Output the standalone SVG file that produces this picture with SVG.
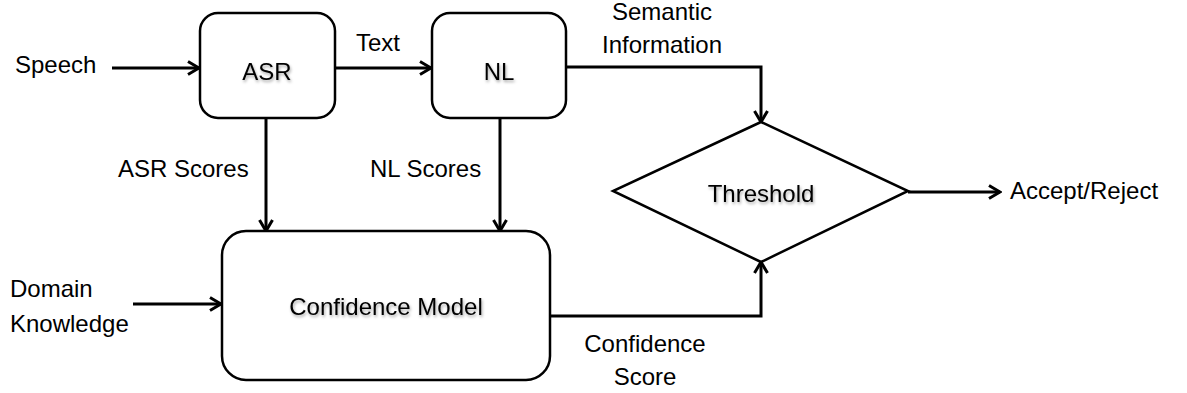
<svg xmlns="http://www.w3.org/2000/svg" width="1187" height="393" viewBox="0 0 1187 393">
<defs>
<marker id="arr" viewBox="0 0 14 16" refX="12.5" refY="8" markerWidth="14" markerHeight="16" markerUnits="userSpaceOnUse" orient="auto">
<path d="M1.5,1.5 L12.5,8 L1.5,14.5" fill="none" stroke="#000" stroke-width="3" stroke-linejoin="miter"/>
</marker>
<filter id="sh" x="-20%" y="-20%" width="140%" height="160%">
<feDropShadow dx="1" dy="2" stdDeviation="1.5" flood-color="#000" flood-opacity="0.35"/>
</filter>
</defs>
<style>
.box{fill:#fff;stroke:#000;stroke-width:2.5}
.lbl{font-family:"Liberation Sans",Arial,sans-serif;font-size:24px;fill:#000}
.nl{filter:url(#sh)}
.c{text-anchor:middle}
.e{fill:none;stroke:#000;stroke-width:3;marker-end:url(#arr)}
</style>
<rect width="1187" height="393" fill="#fff"/>
<g id="connectors">
<path class="e" d="M112,68 H199"/>
<path class="e" d="M336,68 H431"/>
<path class="e" d="M566,67 H761 V122"/>
<path class="e" d="M266,118 V231"/>
<path class="e" d="M500,118 V231"/>
<path class="e" d="M133,304 H221"/>
<path class="e" d="M550,316 H761 V262"/>
<path class="e" d="M908,192 H1000"/>
</g>
<g id="asr">
<rect class="box" x="200" y="13" width="135" height="105" rx="18"/>
<text class="lbl c nl" x="267" y="80">ASR</text>
</g>
<g id="nl">
<rect class="box" x="432" y="13" width="134" height="105" rx="18"/>
<text class="lbl c nl" x="499" y="80">NL</text>
</g>
<g id="confidence-model">
<rect class="box" x="222" y="231" width="328" height="149" rx="24"/>
<text class="lbl c nl" x="386" y="315" font-size="25">Confidence Model</text>
</g>
<g id="threshold">
<polygon class="box" points="761,122 908,191 761,262 613,191"/>
<text class="lbl c nl" x="761" y="202">Threshold</text>
</g>
<g id="labels">
<text class="lbl" x="15" y="73">Speech</text>
<text class="lbl c" x="378" y="51">Text</text>
<text class="lbl c" x="662" y="20">Semantic</text>
<text class="lbl c" x="662" y="53">Information</text>
<text class="lbl" x="118" y="177">ASR Scores</text>
<text class="lbl" x="370" y="177">NL Scores</text>
<text class="lbl" x="1010" y="199">Accept/Reject</text>
<text class="lbl" x="10" y="297">Domain</text>
<text class="lbl" x="10" y="332">Knowledge</text>
<text class="lbl c" x="645" y="352">Confidence</text>
<text class="lbl c" x="645" y="385">Score</text>
</g>
</svg>
